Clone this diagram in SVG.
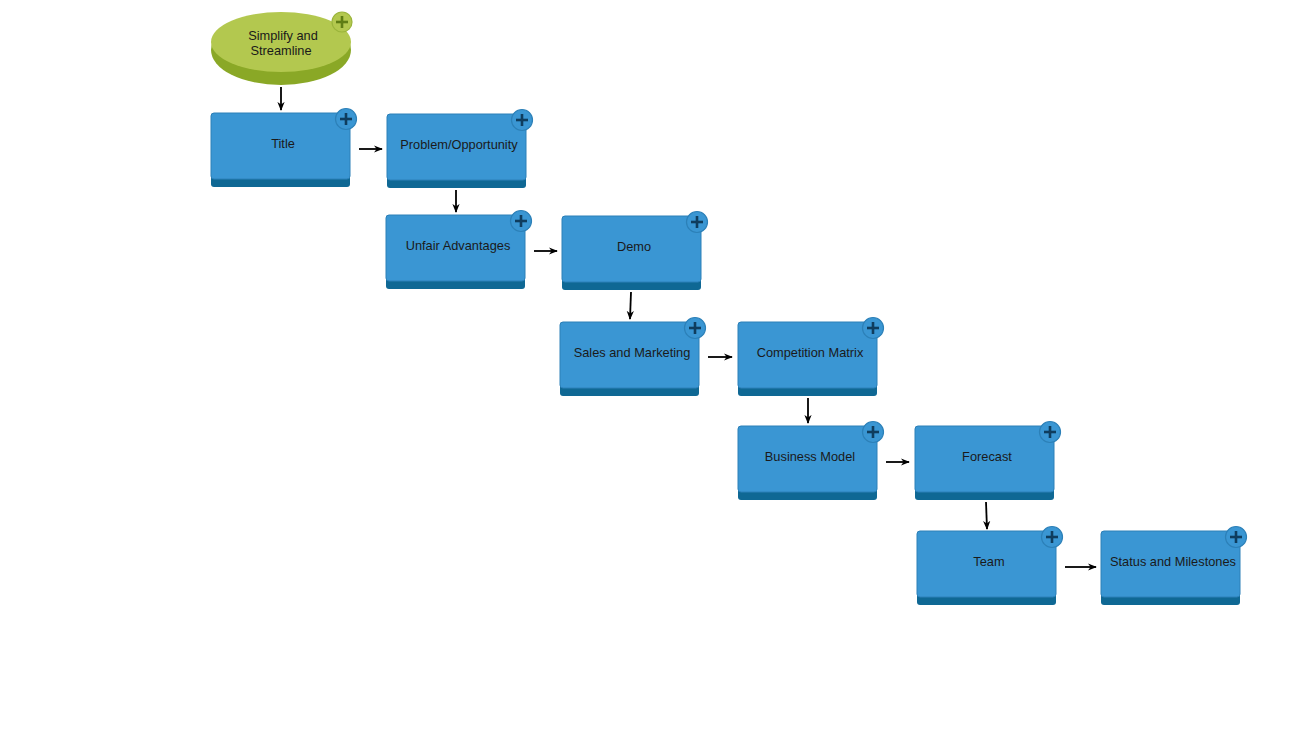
<svg xmlns="http://www.w3.org/2000/svg" width="1300" height="750" viewBox="0 0 1300 750">
<style>
.bot{fill:#0f6894}
.top{fill:#3a96d3;stroke:#2c80b8;stroke-width:1}
.pc{fill:#3a96d3;stroke:#2c80b8;stroke-width:1.2}
.pl{stroke:#0f3d5e;stroke-width:2.6}
.gpl{stroke:#5f7d14;stroke-width:2.6}
.t{font-family:"Liberation Sans",Arial,sans-serif;font-size:12.8px;fill:#1a1a1a;text-anchor:middle}
.c{stroke:#000;stroke-width:1.8;fill:none;marker-end:url(#ah)}
</style>
<defs>
<marker id="ah" viewBox="0 0 10 10" refX="9" refY="5" markerWidth="9" markerHeight="9" orient="auto" markerUnits="userSpaceOnUse">
<path d="M0,1 L10,5 L0,9 L3,5 Z" fill="#000"/>
</marker>
<g id="box">
<rect x="0" y="0" width="139" height="74" rx="3" class="bot"/>
<rect x="0" y="0" width="139" height="66" rx="3" class="top"/>
</g>
<g id="plus">
<circle cx="0" cy="0" r="10.5" class="pc"/>
<line x1="-6" y1="0" x2="6" y2="0" class="pl"/>
<line x1="0" y1="-6" x2="0" y2="6" class="pl"/>
</g>
</defs>
<rect width="1300" height="750" fill="#fff"/>

<g id="connectors">
<line x1="281" y1="87" x2="281" y2="110" class="c"/>
<line x1="359" y1="149" x2="382" y2="149" class="c"/>
<line x1="456" y1="190" x2="456" y2="212" class="c"/>
<line x1="534" y1="251" x2="557" y2="251" class="c"/>
<line x1="631" y1="292" x2="630" y2="319" class="c"/>
<line x1="708" y1="357" x2="732" y2="357" class="c"/>
<line x1="808" y1="398" x2="808" y2="423" class="c"/>
<line x1="886" y1="462" x2="909" y2="462" class="c"/>
<line x1="986" y1="502" x2="987" y2="529" class="c"/>
<line x1="1065" y1="567" x2="1096" y2="567" class="c"/>
</g>

<g id="simplify">
<ellipse cx="281" cy="50" rx="70" ry="35" fill="#8aa826"/>
<ellipse cx="281" cy="42" rx="70" ry="30" fill="#b3c84f"/>
<text class="t" x="283" y="40">Simplify and</text>
<text class="t" x="281" y="55">Streamline</text>
<circle cx="342" cy="22" r="10" fill="#b3c84f" stroke="#9ab43a" stroke-width="1.2"/>
<line x1="336" y1="22" x2="348" y2="22" class="gpl"/>
<line x1="342" y1="16" x2="342" y2="28" class="gpl"/>
</g>

<g id="title"><use href="#box" x="211" y="113"/><use href="#plus" x="346" y="119"/><text class="t" x="283" y="148">Title</text></g>
<g id="problem"><use href="#box" x="387" y="114"/><use href="#plus" x="522" y="120"/><text class="t" x="459" y="149">Problem/Opportunity</text></g>
<g id="unfair"><use href="#box" x="386" y="215"/><use href="#plus" x="521" y="221"/><text class="t" x="458" y="250">Unfair Advantages</text></g>
<g id="demo"><use href="#box" x="562" y="216"/><use href="#plus" x="697" y="222"/><text class="t" x="634" y="251">Demo</text></g>
<g id="sales"><use href="#box" x="560" y="322"/><use href="#plus" x="695" y="328"/><text class="t" x="632" y="357">Sales and Marketing</text></g>
<g id="competition"><use href="#box" x="738" y="322"/><use href="#plus" x="873" y="328"/><text class="t" x="810" y="357">Competition Matrix</text></g>
<g id="business"><use href="#box" x="738" y="426"/><use href="#plus" x="873" y="432"/><text class="t" x="810" y="461">Business Model</text></g>
<g id="forecast"><use href="#box" x="915" y="426"/><use href="#plus" x="1050" y="432"/><text class="t" x="987" y="461">Forecast</text></g>
<g id="team"><use href="#box" x="917" y="531"/><use href="#plus" x="1052" y="537"/><text class="t" x="989" y="566">Team</text></g>
<g id="status"><use href="#box" x="1101" y="531"/><use href="#plus" x="1236" y="537"/><text class="t" x="1173" y="566">Status and Milestones</text></g>
</svg>
